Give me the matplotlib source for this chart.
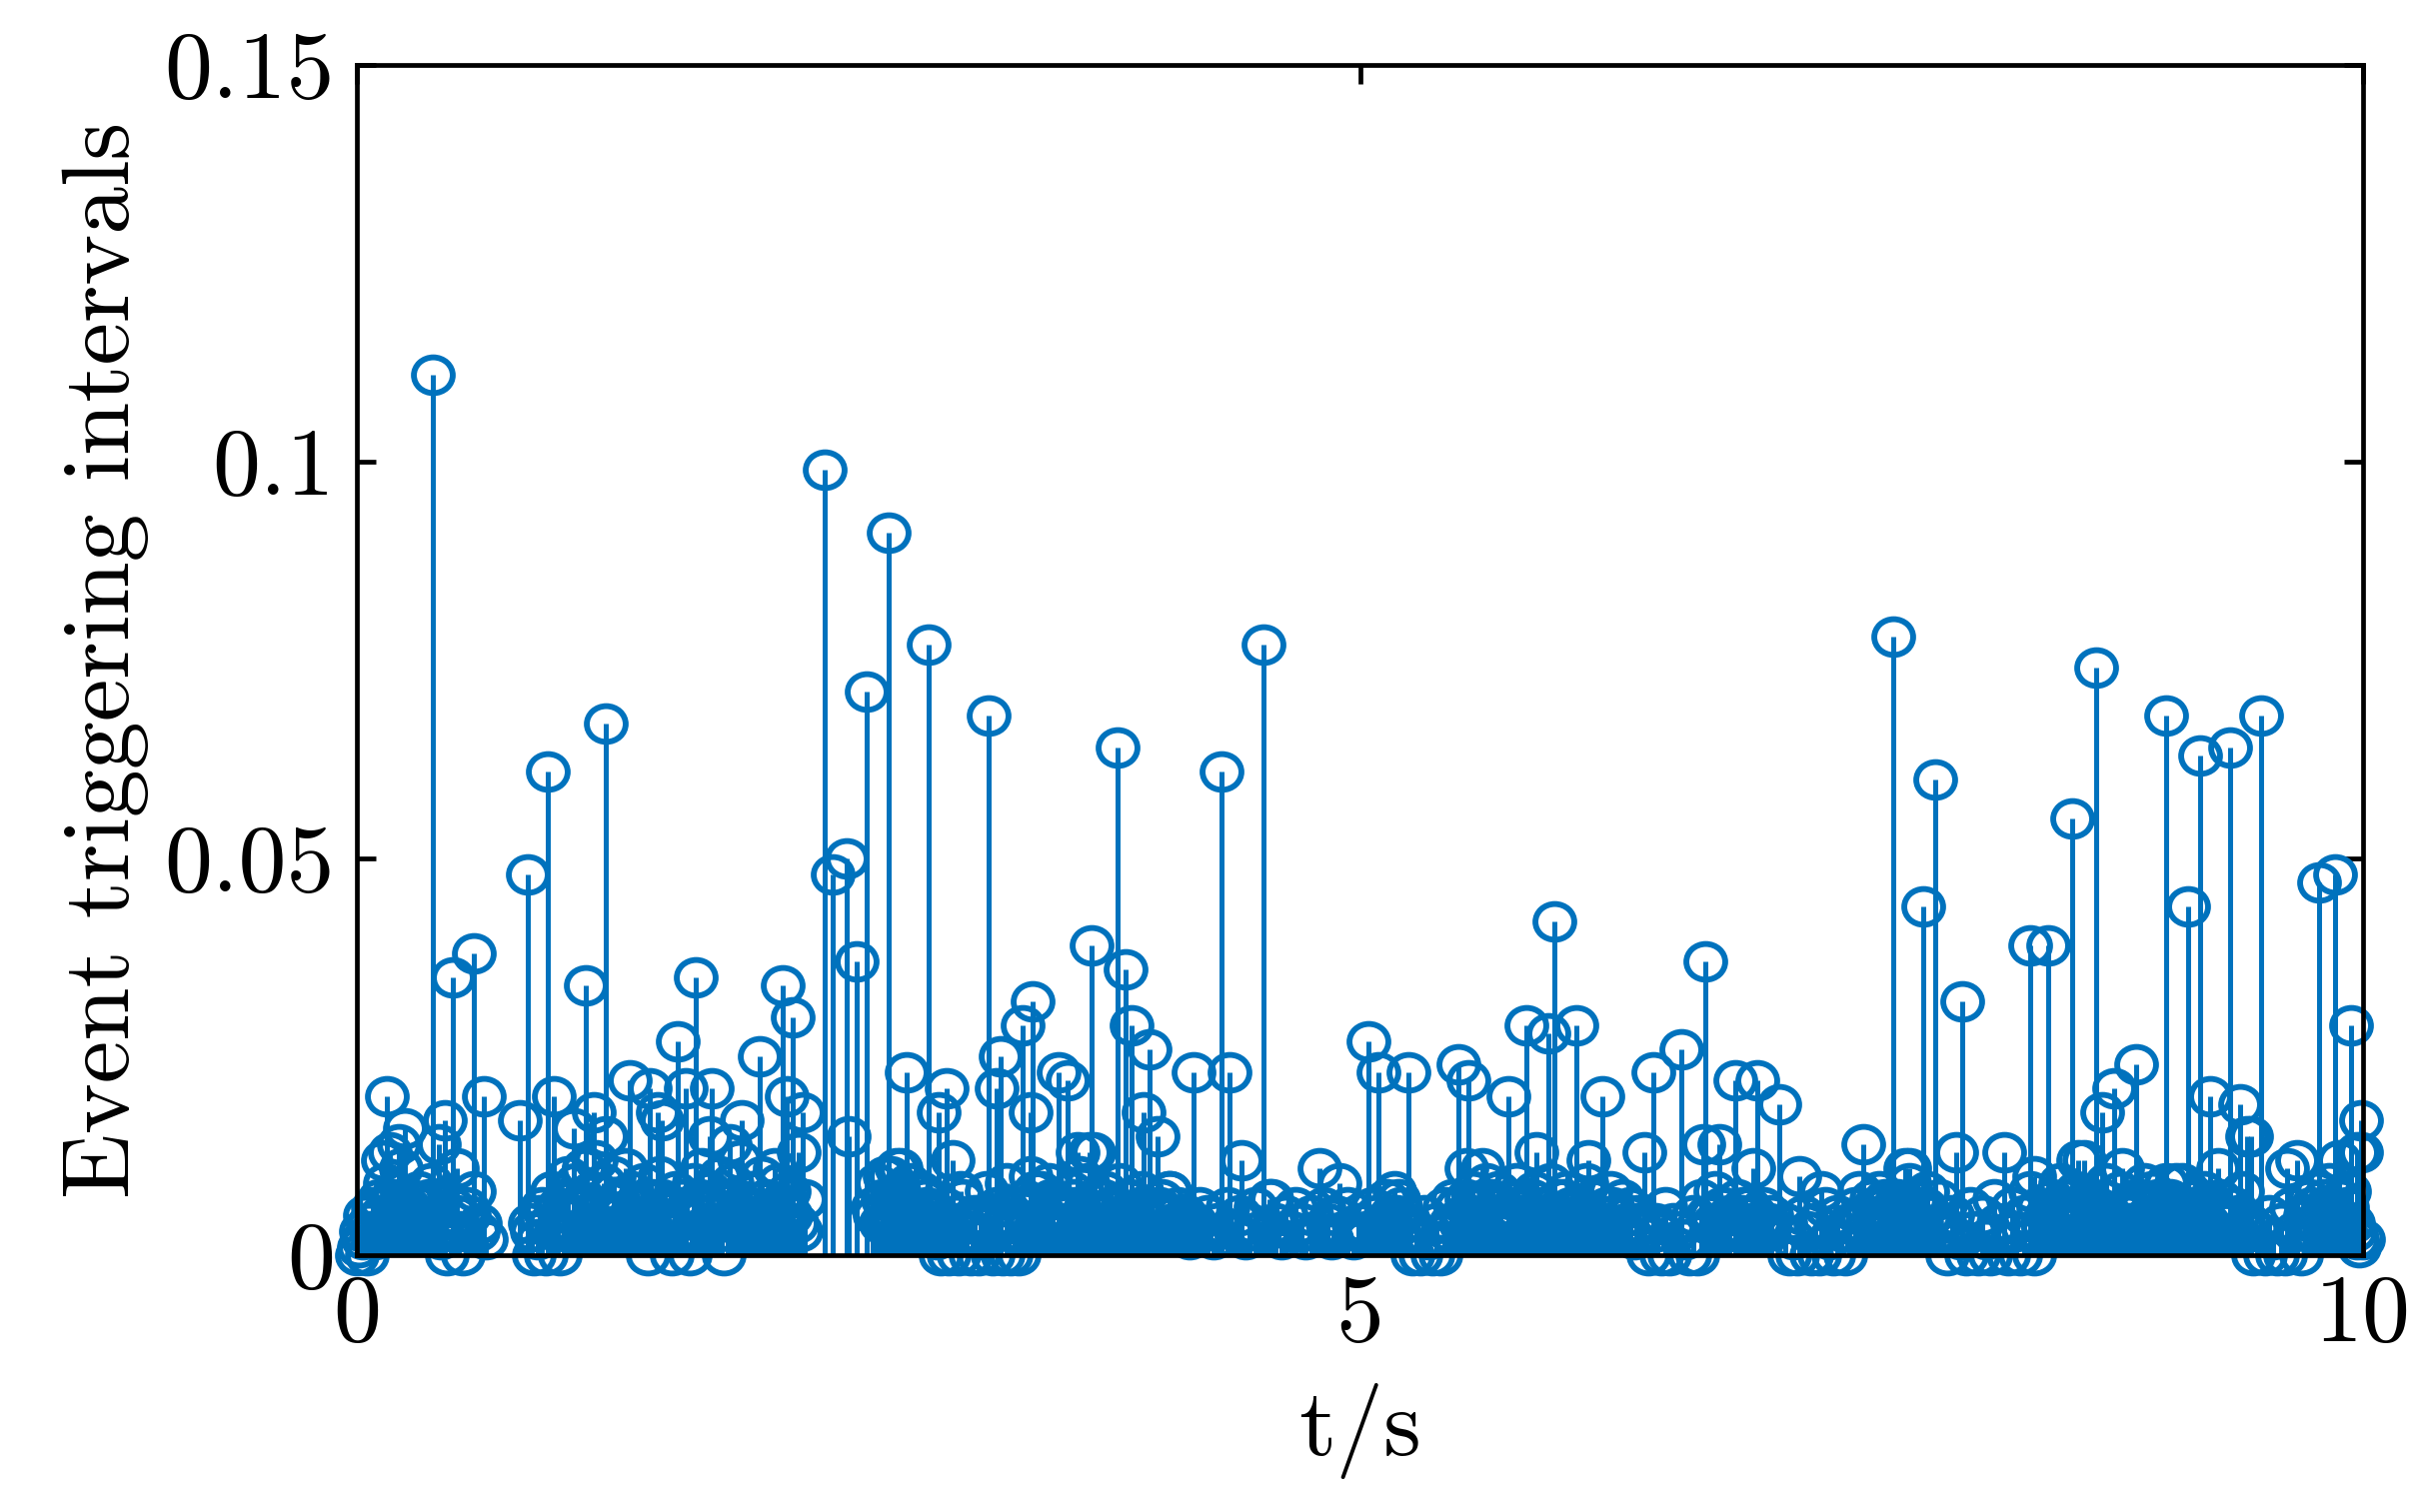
import numpy as np
import matplotlib.pyplot as plt
from matplotlib.path import Path
from matplotlib.transforms import Affine2D

# tall / clearly readable events (time in s, interval in s)
peak_t = [0.15, 0.38, 0.44, 0.48, 0.58, 0.63, 0.81, 0.85, 0.95, 0.98,
          1.14, 1.24, 1.60, 1.69, 2.01, 2.12, 2.17, 2.33, 2.37, 2.44,
          2.49, 2.45, 2.54, 2.65, 2.85, 3.15, 3.21, 3.32, 3.37, 3.66,
          3.79, 3.83, 3.86, 3.95, 4.17, 4.31, 4.35, 4.52, 5.04, 5.24,
          5.49, 5.54, 5.74, 5.83, 5.94, 5.97, 6.08, 6.21, 6.46, 6.60,
          6.72, 6.87, 6.98, 7.09, 7.51, 7.66, 7.81, 7.87, 8.00, 8.34,
          8.43, 8.55, 8.67, 8.70, 8.76, 8.87, 9.02, 9.13, 9.19, 9.24,
          9.34, 9.39, 9.44, 9.49, 9.78, 9.86, 9.94, 9.99]
peak_v = [0.020, 0.111, 0.017, 0.035, 0.038, 0.020, 0.017, 0.048, 0.061, 0.020,
          0.034, 0.067, 0.027, 0.035, 0.025, 0.034, 0.030, 0.099, 0.048, 0.050,
          0.037, 0.015, 0.071, 0.091, 0.077, 0.068, 0.025, 0.029, 0.032, 0.039,
          0.064, 0.036, 0.029, 0.026, 0.023, 0.061, 0.023, 0.077, 0.027, 0.023,
          0.024, 0.022, 0.020, 0.029, 0.028, 0.042, 0.029, 0.020, 0.023, 0.026,
          0.037, 0.022, 0.022, 0.019, 0.014, 0.078, 0.044, 0.060, 0.032, 0.039,
          0.039, 0.055, 0.074, 0.018, 0.021, 0.024, 0.068, 0.044, 0.063, 0.020,
          0.064, 0.019, 0.015, 0.068, 0.047, 0.048, 0.029, 0.017]

# middle-height events
mid_t = [0.13, 0.165, 0.21, 0.24, 0.41, 0.50, 1.08, 1.13, 1.18, 1.24,
         1.36, 1.46, 1.50, 1.52, 1.64, 1.76, 1.77, 1.86, 1.92, 2.14,
         2.20, 2.22, 2.66, 2.69, 2.71, 2.74, 2.90, 2.94, 2.97, 3.01,
         3.19, 3.36, 3.50, 3.54, 3.59, 3.65, 3.67, 3.92, 3.99, 4.05,
         4.41, 4.55, 4.80, 4.90, 5.09, 5.19, 5.53, 5.61, 5.88, 6.14,
         6.42, 6.71, 6.79, 6.96, 7.19, 7.30, 7.72, 7.74, 7.97, 8.21,
         8.36, 8.58, 8.61, 8.80, 9.02, 9.07, 9.28, 9.42, 9.62, 9.67,
         9.88, 9.97, 9.99]
mid_v = [0.012, 0.013, 0.014, 0.016, 0.014, 0.011, 0.016, 0.011, 0.018, 0.015,
         0.022, 0.021, 0.018, 0.017, 0.021, 0.015, 0.021, 0.014, 0.017, 0.020,
         0.013, 0.018, 0.010, 0.011, 0.011, 0.023, 0.018, 0.021, 0.012, 0.008,
         0.021, 0.018, 0.023, 0.022, 0.013, 0.013, 0.013, 0.018, 0.015, 0.008,
         0.012, 0.007, 0.011, 0.009, 0.023, 0.007, 0.011, 0.011, 0.013, 0.012,
         0.013, 0.014, 0.014, 0.011, 0.010, 0.008, 0.011, 0.011, 0.013, 0.013,
         0.010, 0.012, 0.012, 0.011, 0.009, 0.009, 0.011, 0.015, 0.011, 0.012,
         0.012, 0.013, 0.013]

# dense low events, segment by segment
base1_t = [0.00, 0.01, 0.02, 0.03, 0.05, 0.06, 0.08, 0.09, 0.11, 0.12,
           0.14, 0.17, 0.19, 0.20, 0.22, 0.25, 0.27, 0.29, 0.31, 0.33,
           0.35, 0.37, 0.40, 0.42, 0.45, 0.48, 0.51, 0.53, 0.56, 0.58,
           0.61, 0.64,
           0.04, 0.07, 0.10, 0.16, 0.18, 0.23, 0.26, 0.28, 0.30, 0.34,
           0.36, 0.39, 0.47, 0.50, 0.55, 0.60]
base1_v = [0.000, 0.001, 0.003, 0.002, 0.000, 0.004, 0.006, 0.002, 0.007, 0.005,
           0.009, 0.004, 0.008, 0.006, 0.011, 0.005, 0.007, 0.003, 0.008, 0.006,
           0.004, 0.009, 0.007, 0.002, 0.000, 0.006, 0.003, 0.000, 0.005, 0.008,
           0.004, 0.002,
           0.005, 0.003, 0.006, 0.004, 0.007, 0.003, 0.006, 0.004, 0.005, 0.003,
           0.007, 0.004, 0.003, 0.005, 0.006, 0.003]

base2_t = [0.86, 0.88, 0.90, 0.92, 0.94, 0.97, 0.99, 1.01, 1.03, 1.05,
           1.07, 1.09, 1.11, 1.13, 1.15, 1.17, 1.19, 1.21, 1.23, 1.26,
           1.28, 1.30, 1.32, 1.34, 1.37, 1.39, 1.41, 1.43, 1.45, 1.47,
           1.49, 1.51, 1.53, 1.55, 1.57, 1.59, 1.62, 1.66, 1.68, 1.70,
           1.72, 1.74, 1.76, 1.79, 1.81, 1.83, 1.85, 1.87, 1.89, 1.91,
           1.94, 1.96, 1.98, 2.02, 2.04, 2.06, 2.08, 2.10, 2.13, 2.15,
           2.19, 2.23,
           0.87, 0.91, 0.96, 1.00, 1.04, 1.08, 1.12, 1.16, 1.20, 1.25,
           1.29, 1.33, 1.36, 1.40, 1.44, 1.48, 1.52, 1.56, 1.61, 1.64,
           1.67, 1.71, 1.75, 1.78, 1.82, 1.86, 1.90, 1.93, 1.97, 2.00,
           2.03, 2.07, 2.11, 2.16, 2.21]
base2_v = [0.004, 0.000, 0.002, 0.006, 0.000, 0.008, 0.003, 0.000, 0.007, 0.010,
           0.005, 0.009, 0.006, 0.011, 0.004, 0.008, 0.012, 0.006, 0.009, 0.005,
           0.010, 0.007, 0.004, 0.011, 0.008, 0.006, 0.003, 0.009, 0.000, 0.007,
           0.005, 0.010, 0.006, 0.004, 0.000, 0.008, 0.007, 0.000, 0.009, 0.005,
           0.011, 0.006, 0.008, 0.004, 0.010, 0.000, 0.007, 0.009, 0.005, 0.012,
           0.006, 0.008, 0.004, 0.010, 0.007, 0.005, 0.011, 0.009, 0.006, 0.008,
           0.004, 0.007,
           0.003, 0.005, 0.004, 0.006, 0.003, 0.007, 0.005, 0.004, 0.006, 0.003,
           0.005, 0.007, 0.004, 0.006, 0.005, 0.003, 0.007, 0.004, 0.006, 0.005,
           0.003, 0.007, 0.004, 0.006, 0.005, 0.003, 0.007, 0.004, 0.006, 0.005,
           0.003, 0.006, 0.004, 0.005, 0.003]

base3_t = [2.57, 2.59, 2.61, 2.63, 2.66, 2.68, 2.70, 2.72, 2.75, 2.77,
           2.79, 2.81, 2.83, 2.87, 2.89, 2.91, 2.93, 2.95, 2.98, 3.00,
           3.02, 3.04, 3.06, 3.08, 3.10, 3.12, 3.14, 3.17, 3.19, 3.22,
           3.24, 3.26, 3.28, 3.30, 3.33, 3.36, 3.39, 3.41, 3.43, 3.45,
           3.47, 3.52, 3.56, 3.58, 3.60, 3.62, 3.64, 3.69, 3.71, 3.73,
           3.75, 3.80, 3.82, 3.85, 3.89, 3.91, 3.96, 3.99, 4.01, 4.03,
           4.05, 4.07, 4.09, 4.11, 4.13, 4.15, 4.18, 4.20,
           2.58, 2.62, 2.65, 2.69, 2.73, 2.76, 2.80, 2.84, 2.86, 2.88,
           2.92, 2.96, 2.99, 3.03, 3.07, 3.11, 3.16, 3.20, 3.25, 3.29,
           3.31, 3.34, 3.38, 3.42, 3.46, 3.49, 3.51, 3.54, 3.57, 3.61,
           3.63, 3.68, 3.72, 3.76, 3.78, 3.81, 3.84, 3.88, 3.90, 3.93,
           3.97, 4.00, 4.04, 4.08, 4.12, 4.16]
base3_v = [0.006, 0.009, 0.004, 0.010, 0.007, 0.005, 0.008, 0.003, 0.009, 0.006,
           0.004, 0.008, 0.007, 0.005, 0.002, 0.000, 0.006, 0.000, 0.004, 0.000,
           0.007, 0.003, 0.000, 0.005, 0.000, 0.002, 0.008, 0.000, 0.006, 0.000,
           0.009, 0.000, 0.004, 0.000, 0.007, 0.010, 0.006, 0.008, 0.005, 0.009,
           0.007, 0.004, 0.008, 0.006, 0.010, 0.005, 0.009, 0.007, 0.004, 0.008,
           0.006, 0.009, 0.005, 0.007, 0.004, 0.008, 0.006, 0.003, 0.007, 0.005,
           0.008, 0.004, 0.006, 0.003, 0.005, 0.002, 0.004, 0.006,
           0.005, 0.007, 0.004, 0.006, 0.005, 0.008, 0.004, 0.006, 0.003, 0.005,
           0.004, 0.003, 0.005, 0.004, 0.003, 0.005, 0.004, 0.005, 0.003, 0.004,
           0.006, 0.004, 0.008, 0.005, 0.007, 0.004, 0.006, 0.005, 0.007, 0.004,
           0.006, 0.005, 0.007, 0.004, 0.006, 0.005, 0.007, 0.004, 0.006, 0.005,
           0.004, 0.006, 0.003, 0.005, 0.004, 0.003]

base4_t = [4.22, 4.24, 4.27, 4.29, 4.34, 4.38, 4.40, 4.43, 4.45, 4.48,
           4.50, 4.56, 4.58, 4.61, 4.63, 4.66, 4.68, 4.71, 4.73, 4.76,
           4.78, 4.82, 4.84, 4.86, 4.88, 4.92, 4.94, 4.97, 4.99]
base4_v = [0.003, 0.005, 0.002, 0.004, 0.006, 0.003, 0.005, 0.002, 0.004, 0.006,
           0.003, 0.007, 0.004, 0.002, 0.005, 0.003, 0.006, 0.004, 0.002, 0.005,
           0.003, 0.006, 0.004, 0.002, 0.005, 0.003, 0.006, 0.002, 0.004]

base5_t = [5.01, 5.06, 5.11, 5.13, 5.15, 5.17, 5.20, 5.22, 5.26, 5.28,
           5.30, 5.32, 5.34, 5.36, 5.38, 5.40, 5.42, 5.44, 5.46, 5.51,
           5.56, 5.58, 5.63, 5.65, 5.67, 5.69, 5.71, 5.76, 5.78, 5.80,
           5.85, 5.87, 5.90, 5.95, 5.99, 6.01, 6.03, 6.05, 6.11, 6.13,
           6.16, 6.18, 6.23, 6.25, 6.27, 6.29, 6.31, 6.33, 6.35, 6.37,
           6.39, 6.44, 6.48, 6.50, 6.52, 6.54, 6.56, 6.62, 6.64, 6.66,
           6.68, 6.70, 6.75, 6.77, 6.81, 6.83, 6.88, 6.90, 6.92, 6.94,
           6.99, 7.01, 7.03, 7.05,
           5.03, 5.08, 5.12, 5.18, 5.24, 5.45, 5.48, 5.50, 5.53, 5.55,
           5.57, 5.60, 5.62, 5.66, 5.70, 5.73, 5.75, 5.79, 5.82, 5.84,
           5.86, 5.89, 5.92, 5.96, 6.00, 6.02, 6.06, 6.09, 6.12, 6.15,
           6.19, 6.22, 6.26, 6.30, 6.34, 6.38, 6.41, 6.47, 6.58, 6.73,
           6.76, 6.80, 6.84, 6.87, 6.91, 6.95, 6.97, 7.00, 7.04]
base5_v = [0.004, 0.006, 0.003, 0.007, 0.005, 0.008, 0.006, 0.004, 0.000, 0.003,
           0.000, 0.005, 0.002, 0.000, 0.004, 0.000, 0.006, 0.003, 0.007, 0.005,
           0.008, 0.006, 0.009, 0.007, 0.005, 0.008, 0.004, 0.006, 0.009, 0.007,
           0.005, 0.008, 0.006, 0.009, 0.007, 0.004, 0.008, 0.006, 0.005, 0.009,
           0.007, 0.004, 0.006, 0.008, 0.005, 0.003, 0.007, 0.004, 0.006, 0.002,
           0.005, 0.000, 0.003, 0.000, 0.006, 0.000, 0.004, 0.002, 0.000, 0.005,
           0.000, 0.007, 0.005, 0.008, 0.006, 0.004, 0.007, 0.005, 0.003, 0.006,
           0.004, 0.006, 0.003, 0.005,
           0.003, 0.005, 0.004, 0.005, 0.003, 0.004, 0.006, 0.004, 0.007, 0.005,
           0.006, 0.004, 0.007, 0.005, 0.006, 0.004, 0.007, 0.005, 0.006, 0.004,
           0.007, 0.005, 0.006, 0.004, 0.005, 0.007, 0.004, 0.006, 0.005, 0.003,
           0.005, 0.004, 0.006, 0.003, 0.005, 0.004, 0.003, 0.004, 0.003, 0.005,
           0.004, 0.006, 0.005, 0.003, 0.006, 0.004, 0.005, 0.003, 0.004]

base6_t = [7.12, 7.14, 7.16, 7.18, 7.21, 7.23, 7.25, 7.27, 7.29, 7.32,
           7.34, 7.36, 7.38, 7.40, 7.42, 7.44, 7.47, 7.49, 7.53, 7.55,
           7.57, 7.59, 7.61, 7.63, 7.68, 7.70, 7.74, 7.76, 7.78, 7.83,
           7.85, 7.89, 7.91, 7.93, 7.95, 7.99, 8.02, 8.04, 8.06, 8.08,
           8.10, 8.12, 8.14, 8.16, 8.18, 8.23, 8.25, 8.27, 8.29, 8.31,
           8.34, 8.36, 8.38, 8.40, 8.45, 8.47, 8.49, 8.51, 8.57, 8.59,
           8.63, 8.68, 8.72, 8.74, 8.79, 8.82, 8.84, 8.89, 8.91, 8.93,
           8.95, 8.97, 8.99, 9.04, 9.08, 9.10, 9.15, 9.21, 9.26, 9.29,
           9.31, 9.36, 9.40, 9.45, 9.47, 9.51, 9.53, 9.55, 9.57, 9.59,
           9.61, 9.64, 9.66, 9.69, 9.71, 9.73, 9.75, 9.77, 9.81, 9.83,
           9.85, 9.89, 9.91, 9.93, 9.96, 9.98, 10.00,
           7.50, 7.52, 7.56, 7.60, 7.62, 7.65, 7.67, 7.69, 7.72, 7.75,
           7.77, 7.80, 7.82, 7.84, 7.88, 7.90, 8.42, 8.44, 8.46, 8.48,
           8.50, 8.52, 8.54, 8.56, 8.60, 8.62, 8.65, 8.69, 8.71, 8.73,
           8.78, 8.81, 8.83, 8.86, 8.88, 8.90, 8.92, 8.94, 8.98, 9.01,
           9.03, 9.06, 9.09, 9.12, 9.14, 9.17, 9.20, 9.23, 9.25, 9.27,
           9.30, 9.33, 9.35, 9.38, 9.41, 9.43, 9.74, 9.76, 9.79, 9.80,
           9.82, 9.84, 9.87, 9.90, 9.92, 9.95, 9.97]
base6_v = [0.004, 0.000, 0.002, 0.000, 0.005, 0.003, 0.000, 0.004, 0.000, 0.006,
           0.002, 0.000, 0.005, 0.003, 0.000, 0.004, 0.006, 0.008, 0.005, 0.007,
           0.004, 0.008, 0.006, 0.003, 0.007, 0.005, 0.009, 0.004, 0.006, 0.008,
           0.005, 0.007, 0.003, 0.000, 0.005, 0.002, 0.000, 0.006, 0.003, 0.000,
           0.005, 0.002, 0.000, 0.007, 0.004, 0.000, 0.006, 0.003, 0.000, 0.005,
           0.008, 0.000, 0.006, 0.004, 0.007, 0.005, 0.009, 0.006, 0.008, 0.005,
           0.007, 0.006, 0.009, 0.005, 0.008, 0.006, 0.004, 0.007, 0.009, 0.005,
           0.008, 0.006, 0.004, 0.007, 0.005, 0.009, 0.006, 0.008, 0.005, 0.007,
           0.004, 0.006, 0.008, 0.000, 0.003, 0.000, 0.005, 0.002, 0.000, 0.004,
           0.000, 0.006, 0.003, 0.000, 0.005, 0.007, 0.004, 0.008, 0.006, 0.009,
           0.005, 0.007, 0.004, 0.008, 0.003, 0.001, 0.002,
           0.005, 0.003, 0.006, 0.004, 0.007, 0.005, 0.003, 0.006, 0.004, 0.005,
           0.007, 0.004, 0.006, 0.005, 0.003, 0.004, 0.005, 0.003, 0.006, 0.004,
           0.005, 0.007, 0.004, 0.006, 0.005, 0.003, 0.006, 0.004, 0.007, 0.005,
           0.004, 0.006, 0.005, 0.007, 0.003, 0.006, 0.004, 0.005, 0.007, 0.004,
           0.006, 0.005, 0.003, 0.006, 0.004, 0.007, 0.005, 0.004, 0.006, 0.003,
           0.005, 0.004, 0.006, 0.005, 0.003, 0.004, 0.006, 0.004, 0.005, 0.007,
           0.004, 0.006, 0.005, 0.003, 0.006, 0.004, 0.002]

x_ticks = [0, 5, 10]
x_tick_labels = ['0', '5', '10']
y_ticks = [0, 0.05, 0.1, 0.15]
y_tick_labels = ['0', '0.05', '0.1', '0.15']

t_all = np.concatenate([peak_t, mid_t, base1_t, base2_t, base3_t, base4_t, base5_t, base6_t])
v_all = np.concatenate([peak_v, mid_v, base1_v, base2_v, base3_v, base4_v, base5_v, base6_v])
order = np.argsort(t_all, kind='stable')
t_all = t_all[order]
v_all = v_all[order]

blue = '#0072BD'
plt.rcParams['font.family'] = ['cmr10', 'DejaVu Serif']
plt.rcParams['axes.formatter.use_mathtext'] = True

# the source image is slightly stretched sideways, so the circles are a bit wide
ring = Path.unit_circle().transformed(Affine2D().scale(1.0, 0.92))

fig = plt.figure(figsize=(24.31, 15.13), dpi=100)
ax = fig.add_axes([0.1469, 0.1699, 0.8255, 0.7871])

markerline, stemlines, baseline = ax.stem(t_all, v_all, linefmt='-', markerfmt='o', basefmt=' ')
stemlines.set_color(blue)
stemlines.set_linewidth(3.6)
markerline.set_marker(ring)
markerline.set_color(blue)
markerline.set_markerfacecolor('none')
markerline.set_markeredgewidth(4.2)
markerline.set_markersize(28)
markerline.set_clip_on(False)

ax.set_xlim(0, 10)
ax.set_ylim(0, 0.15)
ax.set_xticks(x_ticks)
ax.set_xticklabels(x_tick_labels)
ax.set_yticks(y_ticks)
ax.set_yticklabels(y_tick_labels)

for side in ['left', 'right', 'top', 'bottom']:
    ax.spines[side].set_linewidth(3.4)
    ax.spines[side].set_zorder(5)
ax.tick_params(direction='in', length=14, width=3.4, top=True, right=True, labelsize=69)
ax.tick_params(axis='x', pad=14)
ax.tick_params(axis='y', pad=16)

ax.set_xlabel('t/s', fontsize=69, labelpad=17)
ax.set_ylabel('Event triggering intervals', fontsize=69, labelpad=11)

fig.savefig('out.png', dpi=100)
